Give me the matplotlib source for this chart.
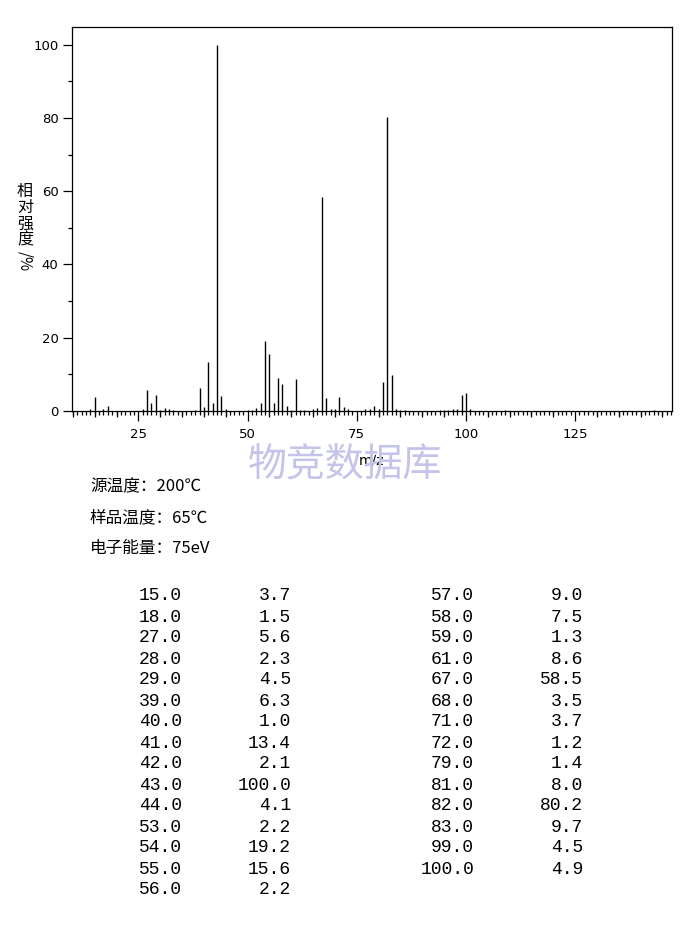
import matplotlib
matplotlib.use("Agg")
import matplotlib.pyplot as plt
from matplotlib.ticker import MultipleLocator, FixedLocator

# ---------------- data ----------------
# listed peaks (m/z, relative intensity %)
peak_mz = [15, 18, 27, 28, 29, 39, 40, 41, 42, 43, 44, 53, 54, 55, 56,
           57, 58, 59, 61, 67, 68, 71, 72, 79, 81, 82, 83, 99, 100]
peak_int = [3.7, 1.5, 5.6, 2.3, 4.5, 6.3, 1.0, 13.4, 2.1, 100.0, 4.1, 2.2, 19.2, 15.6, 2.2,
            9.0, 7.5, 1.3, 8.6, 58.5, 3.5, 3.7, 1.2, 1.4, 8.0, 80.2, 9.7, 4.5, 4.9]
# small unlisted peaks
minor_mz = [14, 17, 26, 30, 31, 32, 33, 38, 45, 50, 51, 52, 60, 62, 63, 65, 66,
            69, 70, 73, 77, 78, 80, 84, 85, 86, 94, 95, 96, 97, 98, 101, 109, 143]
minor_int = [0.5, 0.5, 0.6, 0.3, 0.7, 0.6, 0.3, 0.3, 0.5, 0.3, 0.4, 0.7, 0.4, 0.4, 0.3, 0.5, 0.7,
             0.6, 0.5, 0.5, 0.5, 0.6, 0.5, 0.5, 0.4, 0.3, 0.3, 0.4, 0.4, 0.5, 0.6, 0.5, 0.3, 0.3]

x_major_ticks = [25, 50, 75, 100, 125]
y_major_ticks = [0, 20, 40, 60, 80, 100]

info_lines = ["源温度：200℃", "样品温度：65℃", "电子能量：75eV"]
ylabel_chars = ["相", "对", "强", "度"]
watermark = "物竞数据库"

W, H = 692, 935
fig = plt.figure(figsize=(W / 100, H / 100), dpi=100)
CJK = ["Noto Sans CJK SC", "DejaVu Sans"]


def fx(x):
    return x / W


def fy(y):
    return 1 - y / H


ax_l, ax_r, ax_t, ax_b = 72, 672, 27, 411
ax = fig.add_axes([fx(ax_l), fy(ax_b), (ax_r - ax_l) / W, (ax_b - ax_t) / H])

mz_all = peak_mz + minor_mz
int_all = peak_int + minor_int
ax.vlines(mz_all, 0, int_all, colors="black", linewidth=1.0)

ax.set_xlim(9.8, 147.2)
ax.set_ylim(0, 104.8)

for s in ax.spines.values():
    s.set_linewidth(0.9)
    s.set_color("black")

ax.xaxis.set_major_locator(FixedLocator(x_major_ticks))
ax.xaxis.set_minor_locator(MultipleLocator(1))
ax.yaxis.set_major_locator(FixedLocator(y_major_ticks))
ax.yaxis.set_minor_locator(MultipleLocator(10))
ax.tick_params(axis="x", which="major", length=7.2, width=0.9, pad=5, labelsize=9.5)
ax.tick_params(axis="x", which="minor", length=2.6, width=0.9)
ax.tick_params(axis="y", which="major", length=6.8, width=0.9, pad=3, labelsize=9.5)
ax.tick_params(axis="y", which="minor", length=3.0, width=0.9)

# medium ticks every 5
sec = ax.secondary_xaxis("bottom")
sec.set_xticks([t for t in range(10, 150, 5) if t % 25 != 0])
sec.tick_params(axis="x", which="major", length=4.3, width=0.9, labelbottom=False)
sec.tick_params(axis="x", which="minor", length=0)
sec.spines["bottom"].set_visible(False)

# watermark
fig.text(fx(345), fy(466), watermark, family=CJK, fontsize=28, color="#c4c4ea",
         ha="center", va="center", zorder=0)

# x label
ax.set_xlabel("m/z", fontsize=10)
ax.xaxis.set_label_coords(0.5, -(461 - ax_b) / (ax_b - ax_t))
ax.xaxis.label.set_va("center")

# y label, vertical writing
for i, ch in enumerate(ylabel_chars):
    fig.text(fx(25), fy(191 + i * 16.4), ch, family=CJK, fontsize=11.5,
             ha="center", va="center")
fig.text(fx(25), fy(261), "/%", family=CJK, fontsize=11, rotation=-90,
         ha="center", va="center")

# info lines
for i, line in enumerate(info_lines):
    fig.text(fx(90), fy(487 + i * 30.7), line, family=CJK, fontsize=12,
             ha="left", va="center")

# table
rows_left = 15
for i, (m, v) in enumerate(zip(peak_mz, peak_int)):
    if i < rows_left:
        c1, c2, r = 182, 291, i
    else:
        c1, c2, r = 474, 583, i - rows_left
    y = fy(596 + r * 21.0)
    fig.text(fx(c1), y, f"{m:.1f}", family="Liberation Mono", fontsize=13,
             ha="right", va="center")
    fig.text(fx(c2), y, f"{v:.1f}", family="Liberation Mono", fontsize=13,
             ha="right", va="center")

fig.savefig("out.png", dpi=100)
